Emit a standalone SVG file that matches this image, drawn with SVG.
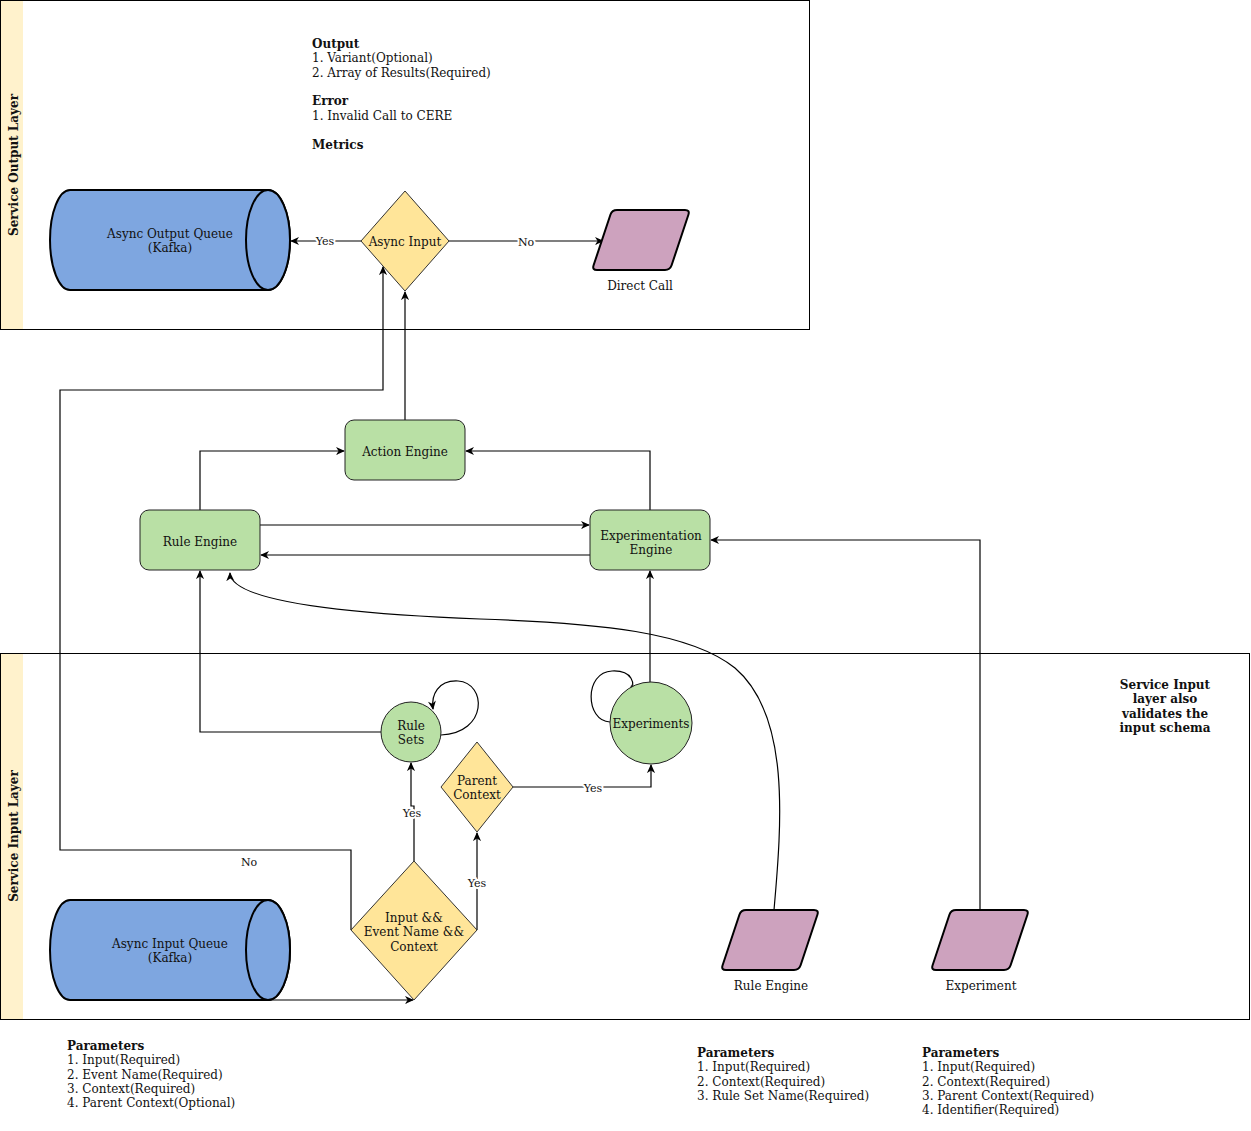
<svg xmlns="http://www.w3.org/2000/svg" width="1251" height="1131" viewBox="0 0 1251 1131">
<style>
text{font-family:"DejaVu Serif","Liberation Serif",serif;font-size:12px;fill:#111}
.b{font-weight:bold}
.m{text-anchor:middle}
.lbl{font-size:11px;text-anchor:middle;stroke:#fff;stroke-width:4px;paint-order:stroke;stroke-linejoin:round}
.lane{fill:none;stroke:#000;stroke-width:1}
.band{fill:#fff2cc;stroke:none}
.green{fill:#b9e0a5;stroke:#222;stroke-width:1}
.dia{fill:#ffe599;stroke:#333;stroke-width:1}
.cyl{fill:#7ea6e0;stroke:#000;stroke-width:2}
.para{fill:#cda2be;stroke:#000;stroke-width:2;stroke-linejoin:round}
.e{fill:none;stroke:#000;stroke-width:1.2}
.ea{fill:none;stroke:#000;stroke-width:1.2;marker-end:url(#arr)}
</style>
<defs>
<marker id="arr" viewBox="0 0 10 10" refX="9" refY="5" markerWidth="9" markerHeight="9" markerUnits="userSpaceOnUse" orient="auto">
<path d="M0,0.5 L10,5 L0,9.5 L3,5 z" fill="#000"/>
</marker>
<path id="para" d="M597,270 Q592,270 593.6,265.3 L610.4,214.7 Q612,210 617,210 H685 Q690,210 688.4,214.7 L671.6,265.3 Q670,270 665,270 Z"/>
</defs>
<rect width="1251" height="1131" fill="#fff"/>

<g id="output-layer">
<rect class="band" x="1" y="1" width="22" height="328"/>
<rect class="lane" x="0.5" y="0.5" width="809" height="329"/>
<text class="b m" transform="translate(18,165) rotate(-90)">Service Output Layer</text>
</g>
<g id="input-layer">
<rect class="band" x="1" y="654" width="22" height="365"/>
<rect class="lane" x="0.5" y="653.5" width="1249" height="366"/>
<text class="b m" transform="translate(18,836) rotate(-90)">Service Input Layer</text>
</g>

<g id="output-notes">
<text x="312" y="48" class="b">Output</text>
<text x="312" y="62">1. Variant(Optional)</text>
<text x="312" y="77">2. Array of Results(Required)</text>
<text x="312" y="105" class="b">Error</text>
<text x="312" y="120">1. Invalid Call to CERE</text>
<text x="312" y="149" class="b">Metrics</text>
</g>

<g id="connectors">
<path class="ea" d="M361,241 H291"/>
<path class="ea" d="M449,241 H603"/>
<path class="ea" d="M405,420 V292"/>
<path class="ea" d="M351,930 V850 H60 V390 H383 V267"/>
<path class="ea" d="M200,510 V451 H344"/>
<path class="ea" d="M650,510 V451 H466"/>
<path class="ea" d="M260,525 H589"/>
<path class="ea" d="M590,555 H261"/>
<path class="ea" d="M381,732 H200 V571"/>
<path class="ea" d="M774,910 C782,820 790,715 735,668 C690,632 600,623 480,619 C350,614 231,602 230,573"/>
<path class="ea" d="M980,910 V540 H711"/>
<path class="ea" d="M650,682 V571"/>
<path class="ea" d="M268,1000 H413"/>
<path class="ea" d="M414,861 V806 H411 V763"/>
<path class="ea" d="M477,930 V833"/>
<path class="ea" d="M513,787 H651 V765"/>
<path class="ea" d="M441,735 C488,733 487,683 458,681 C438,680 431,695 433,709"/>
<path class="ea" d="M610,722 C585,721 584,672 612,671 C632,670 637,684 629,693"/>
<text class="lbl" x="325" y="245">Yes</text>
<text class="lbl" x="526" y="246">No</text>
<text class="lbl" x="412" y="817">Yes</text>
<text class="lbl" x="477" y="887">Yes</text>
<text class="lbl" x="593" y="792">Yes</text>
<text class="lbl" x="249" y="866">No</text>
</g>

<g id="async-output-queue">
<path class="cyl" d="M70,190 H268 A22,50 0 0 1 268,290 H70 A20,50 0 0 1 70,190 Z"/>
<ellipse class="cyl" cx="268" cy="240" rx="22" ry="50"/>
<text class="m" x="170" y="238">Async Output Queue</text>
<text class="m" x="170" y="252">(Kafka)</text>
</g>
<g id="async-input">
<polygon class="dia" points="405,191 449,241 405,291 361,241"/>
<text class="m" x="405" y="246">Async Input</text>
</g>
<g id="direct-call">
<use href="#para" class="para"/>
<text class="m" x="640" y="290">Direct Call</text>
</g>
<g id="action-engine">
<rect class="green" x="345" y="420" width="120" height="60" rx="9"/>
<text class="m" x="405" y="456">Action Engine</text>
</g>
<g id="rule-engine">
<rect class="green" x="140" y="510" width="120" height="60" rx="9"/>
<text class="m" x="200" y="546">Rule Engine</text>
</g>
<g id="experimentation-engine">
<rect class="green" x="590" y="510" width="120" height="60" rx="9"/>
<text class="m" x="651" y="540">Experimentation</text>
<text class="m" x="651" y="554">Engine</text>
</g>
<g id="rule-sets">
<circle class="green" cx="411" cy="732" r="30"/>
<text class="m" x="411" y="730">Rule</text>
<text class="m" x="411" y="744">Sets</text>
</g>
<g id="experiments">
<circle class="green" cx="651" cy="723" r="41"/>
<text class="m" x="651" y="728">Experiments</text>
</g>
<g id="parent-context">
<polygon class="dia" points="477,742 513,787 477,832 441,787"/>
<text class="m" x="477" y="785">Parent</text>
<text class="m" x="477" y="799">Context</text>
</g>
<g id="input-check">
<polygon class="dia" points="414,861 477,930 414,1000 351,930"/>
<text class="m" x="414" y="922">Input &amp;&amp;</text>
<text class="m" x="414" y="936">Event Name &amp;&amp;</text>
<text class="m" x="414" y="951">Context</text>
</g>
<g id="async-input-queue">
<path class="cyl" d="M70,900 H268 A22,50 0 0 1 268,1000 H70 A20,50 0 0 1 70,900 Z"/>
<ellipse class="cyl" cx="268" cy="950" rx="22" ry="50"/>
<text class="m" x="170" y="948">Async Input Queue</text>
<text class="m" x="170" y="962">(Kafka)</text>
</g>
<g id="rule-engine-call">
<use href="#para" class="para" transform="translate(129,700)"/>
<text class="m" x="771" y="990">Rule Engine</text>
</g>
<g id="experiment-call">
<use href="#para" class="para" transform="translate(339,700)"/>
<text class="m" x="981" y="990">Experiment</text>
</g>

<g id="validation-note">
<text class="b m" x="1165" y="689">Service Input</text>
<text class="b m" x="1165" y="703">layer also</text>
<text class="b m" x="1165" y="718">validates the</text>
<text class="b m" x="1165" y="732">input schema</text>
</g>
<g id="params-input">
<text x="67" y="1050" class="b">Parameters</text>
<text x="67" y="1064">1. Input(Required)</text>
<text x="67" y="1079">2. Event Name(Required)</text>
<text x="67" y="1093">3. Context(Required)</text>
<text x="67" y="1107">4. Parent Context(Optional)</text>
</g>
<g id="params-rule">
<text x="697" y="1057" class="b">Parameters</text>
<text x="697" y="1071">1. Input(Required)</text>
<text x="697" y="1086">2. Context(Required)</text>
<text x="697" y="1100">3. Rule Set Name(Required)</text>
</g>
<g id="params-experiment">
<text x="922" y="1057" class="b">Parameters</text>
<text x="922" y="1071">1. Input(Required)</text>
<text x="922" y="1086">2. Context(Required)</text>
<text x="922" y="1100">3. Parent Context(Required)</text>
<text x="922" y="1114">4. Identifier(Required)</text>
</g>
</svg>
